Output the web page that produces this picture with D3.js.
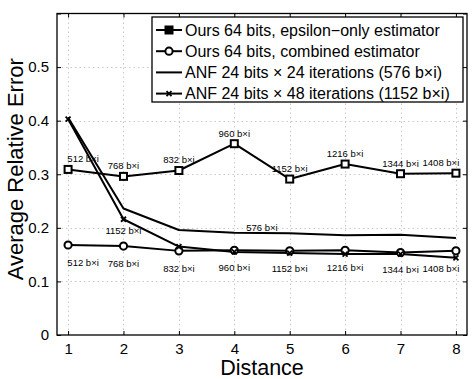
<!DOCTYPE html>
<html>
<head>
<meta charset="utf-8">
<script src="https://cdn.jsdelivr.net/npm/d3@7"></script>
<style>
  html, body { margin: 0; padding: 0; background: #fff; }
  svg { display: block; }
  text { font-family: "Liberation Sans", Arial, Helvetica, sans-serif; fill: #000; }
</style>
</head>
<body>
<svg id="chart" width="474" height="379"></svg>
<script>
const distances = [1, 2, 3, 4, 5, 6, 7, 8];
const epsilonOnly = [0.309, 0.296, 0.307, 0.357, 0.291, 0.319, 0.301, 0.302];
const combined = [0.168, 0.166, 0.157, 0.158, 0.157, 0.158, 0.154, 0.157];
const anf576 = [0.406, 0.236, 0.196, 0.191, 0.190, 0.186, 0.187, 0.181];
const anf1152 = [0.403, 0.216, 0.165, 0.155, 0.153, 0.151, 0.151, 0.144];
const bitLabels = ["512 b×i", "768 b×i", "832 b×i", "960 b×i", "1152 b×i", "1216 b×i", "1344 b×i", "1408 b×i"];
const anfLabels = [{ x: 2, text: "1152 b×i" }, { x: 4.5, text: "576 b×i" }];
const yTicks = [0, 0.1, 0.2, 0.3, 0.4, 0.5, 0.6];
const yTickLabels = ["0", "0.1", "0.2", "0.3", "0.4", "0.5", ""];
const legendLabels = [
  "Ours 64 bits, epsilon\u2212only estimator",
  "Ours 64 bits, combined estimator",
  "ANF 24 bits \u00d7 24 iterations (576 b\u00d7i)",
  "ANF 24 bits \u00d7 48 iterations (1152 b\u00d7i)"
];

const svg = d3.select("#chart");
const L = 57, T = 13.5, R = 467, B = 335;
const x = d3.scaleLinear().domain([0.8, 8.2]).range([L, R]);
const y = d3.scaleLinear().domain([0, 0.6]).range([B, T]);

// grid
const grid = svg.append("g").attr("stroke", "#c8c8c8").attr("stroke-width", 1).attr("stroke-dasharray", "1.5,3");
grid.selectAll(".gx").data(distances).join("line")
  .attr("x1", d => Math.round(x(d)) + 0.5).attr("x2", d => Math.round(x(d)) + 0.5)
  .attr("y1", T).attr("y2", B);
grid.selectAll(".gy").data(yTicks.slice(1, -1)).join("line")
  .attr("y1", d => Math.round(y(d)) + 0.5).attr("y2", d => Math.round(y(d)) + 0.5)
  .attr("x1", L).attr("x2", R);

// axes
const xAxisB = d3.axisBottom(x).tickValues(distances).tickSizeInner(-4).tickSizeOuter(0).tickPadding(8).tickFormat(d3.format("d"));
const xAxisT = d3.axisTop(x).tickValues(distances).tickSizeInner(-4).tickSizeOuter(0).tickFormat("");
const yAxisL = d3.axisLeft(y).tickValues(yTicks).tickSizeInner(-4).tickSizeOuter(0).tickPadding(8).tickFormat((d, i) => yTickLabels[i]);
const yAxisR = d3.axisRight(y).tickValues(yTicks).tickSizeInner(-4).tickSizeOuter(0).tickFormat("");

function style(g) {
  g.selectAll("path").remove();
  g.selectAll("line").attr("stroke", "#000");
  g.selectAll("text").attr("font-size", 15).attr("fill", "#000")
    .style("font-family", "'Liberation Sans', Arial, Helvetica, sans-serif");
}
svg.append("g").attr("transform", `translate(0,${B})`).call(xAxisB).call(style);
svg.append("g").attr("transform", `translate(0,${T})`).call(xAxisT).call(style);
svg.append("g").attr("transform", `translate(${L},0)`).call(yAxisL).call(style);
svg.append("g").attr("transform", `translate(${R},0)`).call(yAxisR).call(style);

svg.append("rect").attr("x", L).attr("y", T).attr("width", R - L).attr("height", B - T)
  .attr("fill", "none").attr("stroke", "#000").attr("stroke-width", 1.3);

// axis titles
svg.append("text").attr("x", (L + R) / 2).attr("y", 374.5).attr("text-anchor", "middle")
  .attr("font-size", 21.5).text("Distance");
svg.append("text").attr("transform", `translate(23,${(T + B) / 2 - 5}) rotate(-90)`)
  .attr("text-anchor", "middle").attr("font-size", 22).text("Average Relative Error");

// lines
const line = d3.line().x((d, i) => x(distances[i])).y(d => y(d));
const series = [
  { vals: epsilonOnly, marker: "square" },
  { vals: combined, marker: "circle" },
  { vals: anf576, marker: "none" },
  { vals: anf1152, marker: "cross" }
];
const plot = svg.append("g");
function drawMarker(g, type, cx, cy, legend) {
  if (type === "square") {
    g.append("rect").attr("x", cx - 3.5).attr("y", cy - 3.5).attr("width", 7).attr("height", 7)
      .attr("fill", legend ? "#000" : "#fff").attr("stroke", "#000").attr("stroke-width", 2);
  } else if (type === "circle") {
    g.append("circle").attr("cx", cx).attr("cy", cy).attr("r", 3.6)
      .attr("fill", "#fff").attr("stroke", "#000").attr("stroke-width", 2);
  } else if (type === "cross") {
    g.append("path").attr("d", `M${cx - 2.5},${cy - 2.5}L${cx + 2.5},${cy + 2.5}M${cx - 2.5},${cy + 2.5}L${cx + 2.5},${cy - 2.5}`)
      .attr("stroke", "#000").attr("stroke-width", 1.8);
  }
}
series.forEach(s => {
  plot.append("path").datum(s.vals).attr("d", line).attr("fill", "none")
    .attr("stroke", "#000").attr("stroke-width", 2).attr("stroke-linejoin", "round");
});
series.forEach(s => {
  s.vals.forEach((v, i) => drawMarker(plot, s.marker, x(distances[i]), y(v), false));
});

// point labels
const lab = svg.append("g").attr("font-size", 9.5).attr("text-anchor", "middle").attr("fill", "#222");
function labelDx(i) { return i === 0 ? 15 : (i === distances.length - 1 ? -15 : 0); }
bitLabels.forEach((t, i) => {
  lab.append("text").attr("x", x(distances[i]) + labelDx(i)).attr("y", y(epsilonOnly[i]) - 7).text(t);
  lab.append("text").attr("x", x(distances[i]) + labelDx(i)).attr("y", y(combined[i]) + 21).text(t);
});
lab.append("text").attr("x", x(anfLabels[0].x)).attr("y", y(anf1152[1]) + 15).text(anfLabels[0].text);
lab.append("text").attr("x", x(anfLabels[1].x)).attr("y", y((anf576[3] + anf576[4]) / 2) - 2).text(anfLabels[1].text);

// legend
const lg = svg.append("g");
lg.append("rect").attr("x", 152).attr("y", 17).attr("width", 311).attr("height", 85)
  .attr("fill", "#fff").attr("stroke", "#000").attr("stroke-width", 1.3);
legendLabels.forEach((t, i) => {
  const cy = 30 + i * 21.2;
  lg.append("line").attr("x1", 156).attr("x2", 182).attr("y1", cy).attr("y2", cy)
    .attr("stroke", "#000").attr("stroke-width", 2);
  drawMarker(lg, series[i].marker, 169, cy, true);
  lg.append("text").attr("x", 185).attr("y", cy + 5.5).attr("font-size", 16).text(t);
});
</script>
</body>
</html>
